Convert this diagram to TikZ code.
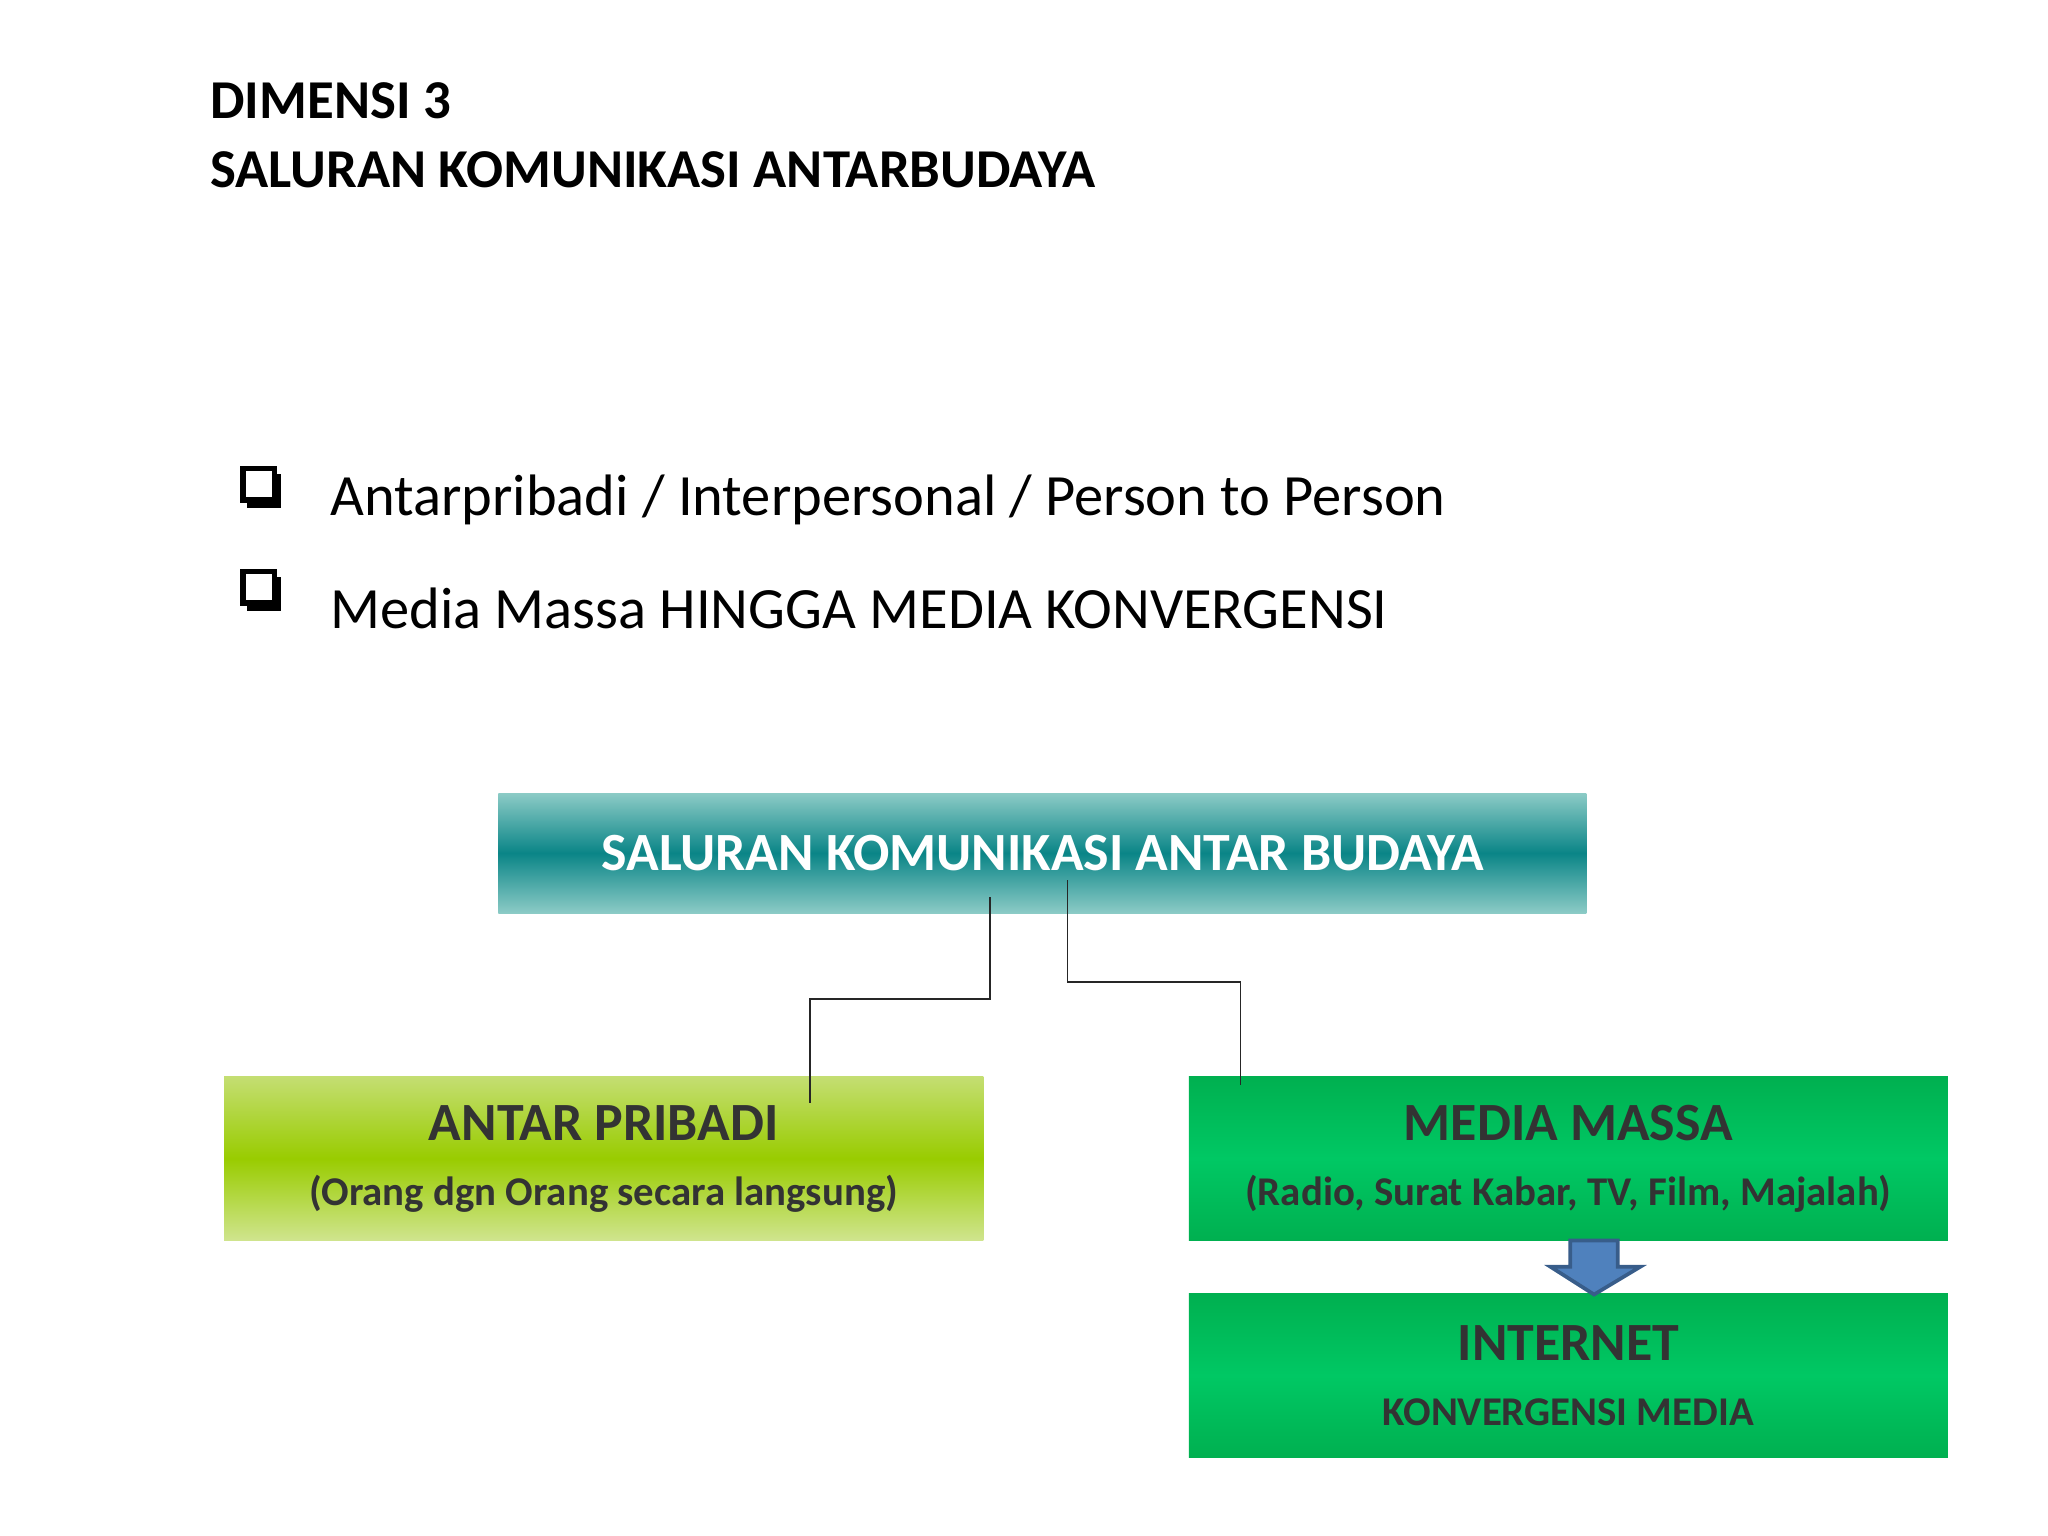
\documentclass[tikz,border=0pt]{standalone}
\usepackage{fontspec}
\setmainfont{Carlito}
\begin{document}
\begin{tikzpicture}[x=0.01cm,y=-0.01cm,
  box/.style={inner sep=0pt, minimum width=5.75cm, minimum height=1.24cm, align=center, text=black!80},
  conn/.style={draw=black!85, line width=0.4pt}]
\useasboundingbox (0,0) rectangle (1552,1164);
\fill[white] (0,0) rectangle (1552,1164);
\node[anchor=base west, font=\bfseries\fontsize{11.8}{14}\selectfont, align=left] (title) at (147,90) {DIMENSI 3};
\node[anchor=base west, font=\bfseries\fontsize{11.8}{14}\selectfont] (title2) at (147,142) {SALURAN KOMUNIKASI ANTARBUDAYA};
% bullets
\foreach \y/\n in {355/b1,433/b2}{
  \fill[black] (187,\y+4) rectangle (213,\y+30);
  \fill[white] (184,\y) rectangle (208,\y+24);
  \draw[line width=1.2pt] (184,\y) rectangle (208,\y+24);
}
\node[anchor=base west, font=\fontsize{12.6}{15}\selectfont] (t1) at (238,391) {Antarpribadi / Interpersonal / Person to Person};
\node[anchor=base west, font=\fontsize{12.6}{15}\selectfont] (t2) at (238,476) {Media Massa HINGGA MEDIA KONVERGENSI};
% boxes
\definecolor{teal1}{HTML}{8CCBC6}\definecolor{teal2}{HTML}{0A8587}
\node[inner sep=0pt, minimum width=8.24cm, minimum height=0.91cm, top color=teal1, bottom color=teal1, middle color=teal2, text=white, font=\bfseries\fontsize{11.6}{14}\selectfont] (top) at (790,646.5) {SALURAN KOMUNIKASI ANTAR BUDAYA};
\definecolor{yg1}{HTML}{C4DE72}\definecolor{yg2}{HTML}{99CC00}
\node[box, top color=yg1, bottom color=yg1!80!white, middle color=yg2] (ap) at (457.5,878) {{\bfseries\fontsize{11.6}{14}\selectfont ANTAR PRIBADI}\\[2pt]{\bfseries\fontsize{8.8}{11}\selectfont (Orang dgn Orang secara langsung)}};
\definecolor{g1}{HTML}{00B050}\definecolor{g2}{HTML}{00C864}
\node[box, top color=g1, bottom color=g1, middle color=g2] (mm) at (1188.5,878) {{\bfseries\fontsize{11.6}{14}\selectfont MEDIA MASSA}\\[2pt]{\bfseries\fontsize{8.8}{11}\selectfont (Radio, Surat Kabar, TV, Film, Majalah)}};
\node[box, top color=g1, bottom color=g1, middle color=g2] (inet) at (1188.5,1042.5) {{\bfseries\fontsize{11.6}{14}\selectfont INTERNET}\\[2pt]{\bfseries\fontsize{8.8}{11}\selectfont KONVERGENSI MEDIA}};
% arrow
\filldraw[fill={rgb,255:red,79;green,129;blue,189}, draw={rgb,255:red,56;green,93;blue,138}, line width=0.8pt]
  (1190,940) -- (1226,940) -- (1226,960) -- (1243,960) -- (1208,981) -- (1175,960) -- (1190,960) -- cycle;
% connectors
\coordinate (c1) at (750,680); \coordinate (c1e) at (614,836);
\coordinate (c2) at (809,667); \coordinate (c2e) at (940,822);
\draw[conn] (c1) -- (750,757) -- (614,757) -- (c1e);
\draw[conn] (c2) -- (809,744) -- (940,744) -- (c2e);
\end{tikzpicture}
\end{document}
